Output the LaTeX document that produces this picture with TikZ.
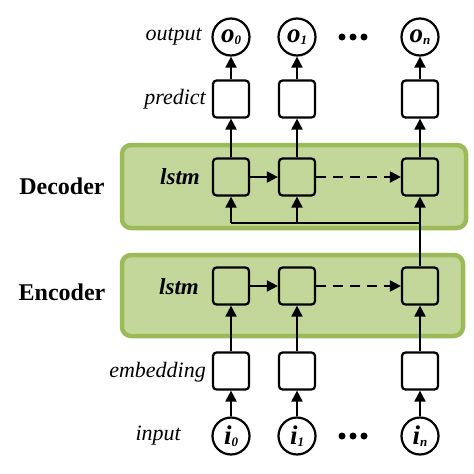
\documentclass[tikz,border=0pt]{standalone}
\usepackage{fontspec}
\setmainfont{Liberation Serif}
\usetikzlibrary{arrows.meta}
\definecolor{gfill}{RGB}{196,215,155}
\definecolor{gedge}{RGB}{155,187,89}
\newcommand{\iolab}[2]{{\bfseries\itshape #1\raisebox{-1.5pt}{\fontsize{13}{13}\selectfont #2}}}
\begin{document}
\begin{tikzpicture}[x=1pt,y=-1pt,
  cell/.style={draw,fill=white,line width=2.2pt,rounded corners=3.5pt,minimum width=36pt,minimum height=37pt,inner sep=0pt},
  lcell/.style={cell,fill=gfill},
  io/.style={draw,fill=white,circle,line width=2.2pt,minimum size=37pt,inner sep=0pt,font=\fontsize{27}{27}\selectfont},
  panel/.style={draw=gedge,fill=gfill,line width=4.5pt,rounded corners=9pt,inner sep=0pt},
  lab/.style={font=\fontsize{22}{22}\selectfont\itshape,anchor=east,inner sep=0pt},
  blab/.style={font=\fontsize{23}{23}\selectfont\bfseries\itshape,anchor=east,inner sep=0pt},
  title/.style={font=\fontsize{24}{24}\selectfont\bfseries,inner sep=0pt},
  ln/.style={line width=2pt},
  arr/.style={ln,-{Triangle[length=11pt,width=11pt]}},
  dsh/.style={dash pattern=on 10pt off 7pt},
  dotc/.style={fill=black}
]
\useasboundingbox (0,0) rectangle (474,474);
% panels
\node[panel,minimum width=344pt,minimum height=83pt] (decp) at (294,186.5) {};
\node[panel,minimum width=341pt,minimum height=81pt] (encp) at (292.5,295.5) {};
% labels
\node[title] (dect) at (62,186) {Decoder};
\node[title] (enct) at (62,292) {Encoder};
\node[lab] (outl) at (202,37) {output};
\node[lab] (predl) at (206,99) {predict};
\node[blab] (dlstm) at (200,177) {lstm};
\node[blab] (elstm) at (199,287) {lstm};
\node[lab] (embl) at (206,372) {embedding};
\node[lab] (inl) at (181,436) {input};
% outputs
\node[io] (o1) at (231,37) {\iolab{o}{0}};
\node[io] (o2) at (297,37) {\iolab{o}{1}};
\node[io] (o3) at (420,37) {\iolab{o}{n}};
% predict
\node[cell] (p1) at (231,99) {};
\node[cell] (p2) at (297,99) {};
\node[cell] (p3) at (420,99) {};
% decoder lstm
\node[lcell] (d1) at (231,177) {};
\node[lcell] (d2) at (297,177) {};
\node[lcell] (d3) at (420,177) {};
% encoder lstm
\node[lcell] (e1) at (231,286) {};
\node[lcell] (e2) at (297,286) {};
\node[lcell] (e3) at (420,286) {};
% embedding
\node[cell] (m1) at (231,371) {};
\node[cell] (m2) at (297,371) {};
\node[cell] (m3) at (420,371) {};
% inputs
\node[io] (i1) at (231,436) {\iolab{i}{0}};
\node[io] (i2) at (297,436) {\iolab{i}{1}};
\node[io] (i3) at (420,436) {\iolab{i}{n}};
% dots
\foreach \x in {342,353,364} {
  \fill[dotc] (\x,37) circle (3.5pt);
  \fill[dotc] (\x,436) circle (3.5pt);
}
% connectors
\foreach \k in {1,2,3} {
  \draw[arr] (p\k) -- (o\k);
  \draw[arr] (d\k) -- (p\k);
  \draw[arr] (m\k) -- (e\k);
  \draw[arr] (i\k) -- (m\k);
}
\draw[arr] (d1) -- (d2);
\draw[arr,dsh] (d2) -- (d3);
\draw[arr] (e1) -- (e2);
\draw[arr,dsh] (e2) -- (e3);
\coordinate (j) at (420,223);
\draw[ln] (e3.north) -- (j);
\draw[arr] (j) -- (d3);
\draw[ln] (j) -- (d1 |- j);
\draw[arr] (d1 |- j) -- (d1);
\draw[arr] (d2 |- j) -- (d2);
\end{tikzpicture}
\end{document}
